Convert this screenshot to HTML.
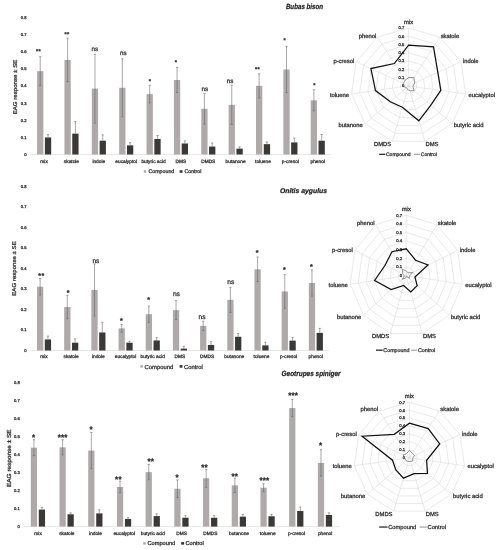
<!DOCTYPE html>
<html><head><meta charset="utf-8"><title>EAG responses</title>
<style>html,body{margin:0;padding:0;background:#fff}svg{display:block;filter:blur(.35px)}text{stroke:#2a2a2a;stroke-width:.3px;stroke-opacity:.85}</style></head>
<body><svg text-rendering="geometricPrecision" width="501" height="550" viewBox="0 0 501 550">
<rect width="501" height="550" fill="#fff"/>
<text x="26.60" y="155.80" font-size="4.15" text-anchor="end" fill="#262626" font-family="Liberation Sans, Arial, sans-serif">0</text>
<text x="26.60" y="138.70" font-size="4.15" text-anchor="end" fill="#262626" font-family="Liberation Sans, Arial, sans-serif">0.1</text>
<text x="26.60" y="121.60" font-size="4.15" text-anchor="end" fill="#262626" font-family="Liberation Sans, Arial, sans-serif">0.2</text>
<text x="26.60" y="104.50" font-size="4.15" text-anchor="end" fill="#262626" font-family="Liberation Sans, Arial, sans-serif">0.3</text>
<text x="26.60" y="87.40" font-size="4.15" text-anchor="end" fill="#262626" font-family="Liberation Sans, Arial, sans-serif">0.4</text>
<text x="26.60" y="70.30" font-size="4.15" text-anchor="end" fill="#262626" font-family="Liberation Sans, Arial, sans-serif">0.5</text>
<text x="26.60" y="53.20" font-size="4.15" text-anchor="end" fill="#262626" font-family="Liberation Sans, Arial, sans-serif">0.6</text>
<text x="26.60" y="36.10" font-size="4.15" text-anchor="end" fill="#262626" font-family="Liberation Sans, Arial, sans-serif">0.7</text>
<text x="26.60" y="19.00" font-size="4.15" text-anchor="end" fill="#262626" font-family="Liberation Sans, Arial, sans-serif">0.8</text>
<text transform="translate(16.70,87.00) rotate(-90)" font-size="5.6" textLength="54.6" lengthAdjust="spacingAndGlyphs" text-anchor="middle" fill="#262626" font-family="Liberation Sans, Arial, sans-serif">EAG response ± SE</text>
<line x1="30.0" y1="154.5" x2="331.0" y2="154.5" stroke="#d9d9d9" stroke-width="0.6"/>
<rect x="37.08" y="71.18" width="6.3" height="83.32" fill="#aeaaaa"/>
<path d="M40.23 56.69V85.67M39.13 56.69h2.2M39.13 85.67h2.2" stroke="#5f5f5f" stroke-width="0.55" fill="none"/>
<text x="38.48" y="53.39" font-size="5.6" font-weight="bold" letter-spacing="0.25" text-anchor="middle" fill="#1a1a1a" font-family="Liberation Sans, Arial, sans-serif">**</text>
<rect x="44.88" y="137.42" width="6.3" height="17.08" fill="#3b3838"/>
<path d="M48.03 134.66V137.42M46.93 134.66h2.2" stroke="#5f5f5f" stroke-width="0.55" fill="none"/>
<text x="44.08" y="163.00" font-size="4.8" text-anchor="middle" fill="#262626" font-family="Liberation Sans, Arial, sans-serif">mix</text>
<rect x="64.45" y="59.97" width="6.3" height="94.53" fill="#aeaaaa"/>
<path d="M67.60 38.23V81.70M66.50 38.23h2.2M66.50 81.70h2.2" stroke="#5f5f5f" stroke-width="0.55" fill="none"/>
<text x="67.05" y="35.94" font-size="5.6" font-weight="bold" letter-spacing="0.25" text-anchor="middle" fill="#1a1a1a" font-family="Liberation Sans, Arial, sans-serif">**</text>
<rect x="72.25" y="133.63" width="6.3" height="20.87" fill="#3b3838"/>
<path d="M75.40 121.55V133.63M74.30 121.55h2.2" stroke="#5f5f5f" stroke-width="0.55" fill="none"/>
<text x="71.45" y="163.00" font-size="4.8" text-anchor="middle" fill="#262626" font-family="Liberation Sans, Arial, sans-serif">skatole</text>
<rect x="91.81" y="88.61" width="6.3" height="65.89" fill="#aeaaaa"/>
<path d="M94.96 54.11V123.11M93.86 54.11h2.2M93.86 123.11h2.2" stroke="#5f5f5f" stroke-width="0.55" fill="none"/>
<text x="94.76" y="51.21" font-size="6.3" text-anchor="middle" fill="#333" font-family="Liberation Sans, Arial, sans-serif">ns</text>
<rect x="99.61" y="140.70" width="6.3" height="13.80" fill="#3b3838"/>
<path d="M102.76 134.83V140.70M101.66 134.83h2.2" stroke="#5f5f5f" stroke-width="0.55" fill="none"/>
<text x="98.81" y="163.00" font-size="4.8" text-anchor="middle" fill="#262626" font-family="Liberation Sans, Arial, sans-serif">indole</text>
<rect x="119.17" y="87.74" width="6.3" height="66.76" fill="#aeaaaa"/>
<path d="M122.32 58.76V116.72M121.22 58.76h2.2M121.22 116.72h2.2" stroke="#5f5f5f" stroke-width="0.55" fill="none"/>
<text x="123.32" y="55.36" font-size="6.3" text-anchor="middle" fill="#333" font-family="Liberation Sans, Arial, sans-serif">ns</text>
<rect x="126.97" y="145.36" width="6.3" height="9.14" fill="#3b3838"/>
<path d="M130.12 142.60V145.36M129.02 142.60h2.2" stroke="#5f5f5f" stroke-width="0.55" fill="none"/>
<text x="126.17" y="163.00" font-size="4.8" text-anchor="middle" fill="#262626" font-family="Liberation Sans, Arial, sans-serif">eucalyptol</text>
<rect x="146.54" y="94.12" width="6.3" height="60.37" fill="#aeaaaa"/>
<path d="M149.69 85.33V102.92M148.59 85.33h2.2M148.59 102.92h2.2" stroke="#5f5f5f" stroke-width="0.55" fill="none"/>
<text x="150.01" y="83.03" font-size="5.6" font-weight="bold" letter-spacing="0.25" text-anchor="middle" fill="#1a1a1a" font-family="Liberation Sans, Arial, sans-serif">*</text>
<rect x="154.34" y="138.97" width="6.3" height="15.52" fill="#3b3838"/>
<path d="M157.49 135.53V138.97M156.39 135.53h2.2" stroke="#5f5f5f" stroke-width="0.55" fill="none"/>
<text x="153.54" y="163.00" font-size="4.8" text-anchor="middle" fill="#262626" font-family="Liberation Sans, Arial, sans-serif">butyric acid</text>
<rect x="173.90" y="79.98" width="6.3" height="74.52" fill="#aeaaaa"/>
<path d="M177.05 67.39V92.57M175.95 67.39h2.2M175.95 92.57h2.2" stroke="#5f5f5f" stroke-width="0.55" fill="none"/>
<text x="175.88" y="64.39" font-size="5.6" font-weight="bold" letter-spacing="0.25" text-anchor="middle" fill="#1a1a1a" font-family="Liberation Sans, Arial, sans-serif">*</text>
<rect x="181.70" y="143.46" width="6.3" height="11.04" fill="#3b3838"/>
<path d="M184.85 140.87V143.46M183.75 140.87h2.2" stroke="#5f5f5f" stroke-width="0.55" fill="none"/>
<text x="180.90" y="163.00" font-size="4.8" text-anchor="middle" fill="#262626" font-family="Liberation Sans, Arial, sans-serif">DMS</text>
<rect x="201.26" y="108.79" width="6.3" height="45.71" fill="#aeaaaa"/>
<path d="M204.41 93.44V124.14M203.31 93.44h2.2M203.31 124.14h2.2" stroke="#5f5f5f" stroke-width="0.55" fill="none"/>
<text x="204.71" y="91.04" font-size="6.3" text-anchor="middle" fill="#333" font-family="Liberation Sans, Arial, sans-serif">ns</text>
<rect x="209.06" y="146.56" width="6.3" height="7.93" fill="#3b3838"/>
<path d="M212.21 142.94V146.56M211.11 142.94h2.2" stroke="#5f5f5f" stroke-width="0.55" fill="none"/>
<text x="208.26" y="163.00" font-size="4.8" text-anchor="middle" fill="#262626" font-family="Liberation Sans, Arial, sans-serif">DMDS</text>
<rect x="228.63" y="104.82" width="6.3" height="49.68" fill="#aeaaaa"/>
<path d="M231.78 85.16V124.48M230.68 85.16h2.2M230.68 124.48h2.2" stroke="#5f5f5f" stroke-width="0.55" fill="none"/>
<text x="230.08" y="83.06" font-size="6.3" text-anchor="middle" fill="#333" font-family="Liberation Sans, Arial, sans-serif">ns</text>
<rect x="236.43" y="148.63" width="6.3" height="5.87" fill="#3b3838"/>
<path d="M239.58 146.91V148.63M238.48 146.91h2.2" stroke="#5f5f5f" stroke-width="0.55" fill="none"/>
<text x="235.63" y="163.00" font-size="4.8" text-anchor="middle" fill="#262626" font-family="Liberation Sans, Arial, sans-serif">butanone</text>
<rect x="255.99" y="85.84" width="6.3" height="68.66" fill="#aeaaaa"/>
<path d="M259.14 73.77V97.92M258.04 73.77h2.2M258.04 97.92h2.2" stroke="#5f5f5f" stroke-width="0.55" fill="none"/>
<text x="257.39" y="71.47" font-size="5.6" font-weight="bold" letter-spacing="0.25" text-anchor="middle" fill="#1a1a1a" font-family="Liberation Sans, Arial, sans-serif">**</text>
<rect x="263.79" y="144.15" width="6.3" height="10.35" fill="#3b3838"/>
<path d="M266.94 141.91V144.15M265.84 141.91h2.2" stroke="#5f5f5f" stroke-width="0.55" fill="none"/>
<text x="262.99" y="163.00" font-size="4.8" text-anchor="middle" fill="#262626" font-family="Liberation Sans, Arial, sans-serif">toluene</text>
<rect x="283.35" y="69.46" width="6.3" height="85.04" fill="#aeaaaa"/>
<path d="M286.50 46.34V92.57M285.40 46.34h2.2M285.40 92.57h2.2" stroke="#5f5f5f" stroke-width="0.55" fill="none"/>
<text x="284.63" y="41.64" font-size="5.6" font-weight="bold" letter-spacing="0.25" text-anchor="middle" fill="#1a1a1a" font-family="Liberation Sans, Arial, sans-serif">*</text>
<rect x="291.15" y="142.43" width="6.3" height="12.08" fill="#3b3838"/>
<path d="M294.30 138.11V142.43M293.20 138.11h2.2" stroke="#5f5f5f" stroke-width="0.55" fill="none"/>
<text x="290.35" y="163.00" font-size="4.8" text-anchor="middle" fill="#262626" font-family="Liberation Sans, Arial, sans-serif">p-cresol</text>
<rect x="310.72" y="100.34" width="6.3" height="54.16" fill="#aeaaaa"/>
<path d="M313.87 89.81V110.86M312.77 89.81h2.2M312.77 110.86h2.2" stroke="#5f5f5f" stroke-width="0.55" fill="none"/>
<text x="314.39" y="87.01" font-size="5.6" font-weight="bold" letter-spacing="0.25" text-anchor="middle" fill="#1a1a1a" font-family="Liberation Sans, Arial, sans-serif">*</text>
<rect x="318.52" y="140.70" width="6.3" height="13.80" fill="#3b3838"/>
<path d="M321.67 134.49V140.70M320.57 134.49h2.2" stroke="#5f5f5f" stroke-width="0.55" fill="none"/>
<text x="317.72" y="163.00" font-size="4.8" text-anchor="middle" fill="#262626" font-family="Liberation Sans, Arial, sans-serif">phenol</text>
<rect x="143.80" y="170.24" width="2.5" height="2.5" fill="#aeaaaa"/>
<text x="148.40" y="173.40" font-size="5.3" fill="#262626" font-family="Liberation Sans, Arial, sans-serif">Compound</text>
<rect x="179.60" y="170.19" width="2.9" height="2.6" fill="#3b3838"/>
<text x="184.40" y="173.40" font-size="5.3" fill="#262626" font-family="Liberation Sans, Arial, sans-serif">Control</text>
<text x="285.90" y="9.30" font-size="7.5" font-weight="bold" font-style="italic" textLength="37.2" lengthAdjust="spacingAndGlyphs" fill="#1a1a1a" font-family="Liberation Sans, Arial, sans-serif">Bubas bison</text>
<text x="26.60" y="351.80" font-size="4.15" text-anchor="end" fill="#262626" font-family="Liberation Sans, Arial, sans-serif">0</text>
<text x="26.60" y="331.30" font-size="4.15" text-anchor="end" fill="#262626" font-family="Liberation Sans, Arial, sans-serif">0.1</text>
<text x="26.60" y="310.80" font-size="4.15" text-anchor="end" fill="#262626" font-family="Liberation Sans, Arial, sans-serif">0.2</text>
<text x="26.60" y="290.30" font-size="4.15" text-anchor="end" fill="#262626" font-family="Liberation Sans, Arial, sans-serif">0.3</text>
<text x="26.60" y="269.80" font-size="4.15" text-anchor="end" fill="#262626" font-family="Liberation Sans, Arial, sans-serif">0.4</text>
<text x="26.60" y="249.30" font-size="4.15" text-anchor="end" fill="#262626" font-family="Liberation Sans, Arial, sans-serif">0.5</text>
<text x="26.60" y="228.80" font-size="4.15" text-anchor="end" fill="#262626" font-family="Liberation Sans, Arial, sans-serif">0.6</text>
<text x="26.60" y="208.30" font-size="4.15" text-anchor="end" fill="#262626" font-family="Liberation Sans, Arial, sans-serif">0.7</text>
<text x="26.60" y="187.80" font-size="4.15" text-anchor="end" fill="#262626" font-family="Liberation Sans, Arial, sans-serif">0.8</text>
<text transform="translate(16.40,268.50) rotate(-90)" font-size="5.6" textLength="54.4" lengthAdjust="spacingAndGlyphs" text-anchor="middle" fill="#262626" font-family="Liberation Sans, Arial, sans-serif">EAG response ± SE</text>
<line x1="30.0" y1="350.5" x2="329.0" y2="350.5" stroke="#d9d9d9" stroke-width="0.6"/>
<rect x="36.99" y="286.75" width="6.3" height="63.76" fill="#aeaaaa"/>
<path d="M40.14 278.55V294.94M39.04 278.55h2.2M39.04 294.94h2.2" stroke="#5f5f5f" stroke-width="0.55" fill="none"/>
<text x="41.59" y="278.05" font-size="7.0" font-weight="bold" letter-spacing="0.55" text-anchor="middle" fill="#1a1a1a" font-family="Liberation Sans, Arial, sans-serif">**</text>
<rect x="44.79" y="339.43" width="6.3" height="11.07" fill="#3b3838"/>
<path d="M47.94 336.15V339.43M46.84 336.15h2.2" stroke="#5f5f5f" stroke-width="0.55" fill="none"/>
<text x="43.99" y="358.00" font-size="4.8" text-anchor="middle" fill="#262626" font-family="Liberation Sans, Arial, sans-serif">mix</text>
<rect x="64.17" y="307.04" width="6.3" height="43.46" fill="#aeaaaa"/>
<path d="M67.32 295.36V318.73M66.22 295.36h2.2M66.22 318.73h2.2" stroke="#5f5f5f" stroke-width="0.55" fill="none"/>
<text x="68.30" y="294.56" font-size="7.0" font-weight="bold" letter-spacing="0.55" text-anchor="middle" fill="#1a1a1a" font-family="Liberation Sans, Arial, sans-serif">*</text>
<rect x="71.97" y="342.71" width="6.3" height="7.79" fill="#3b3838"/>
<path d="M75.12 338.81V342.71M74.02 338.81h2.2" stroke="#5f5f5f" stroke-width="0.55" fill="none"/>
<text x="71.17" y="358.00" font-size="4.8" text-anchor="middle" fill="#262626" font-family="Liberation Sans, Arial, sans-serif">skatole</text>
<rect x="91.35" y="290.02" width="6.3" height="60.47" fill="#aeaaaa"/>
<path d="M94.50 263.99V316.06M93.40 263.99h2.2M93.40 316.06h2.2" stroke="#5f5f5f" stroke-width="0.55" fill="none"/>
<text x="95.90" y="262.69" font-size="6.6" text-anchor="middle" fill="#333" font-family="Liberation Sans, Arial, sans-serif">ns</text>
<rect x="99.15" y="332.46" width="6.3" height="18.04" fill="#3b3838"/>
<path d="M102.30 322.41V332.46M101.20 322.41h2.2" stroke="#5f5f5f" stroke-width="0.55" fill="none"/>
<text x="98.35" y="358.00" font-size="4.8" text-anchor="middle" fill="#262626" font-family="Liberation Sans, Arial, sans-serif">indole</text>
<rect x="118.54" y="328.36" width="6.3" height="22.14" fill="#aeaaaa"/>
<path d="M121.69 324.47V332.25M120.59 324.47h2.2M120.59 332.25h2.2" stroke="#5f5f5f" stroke-width="0.55" fill="none"/>
<text x="121.66" y="323.27" font-size="7.0" font-weight="bold" letter-spacing="0.55" text-anchor="middle" fill="#1a1a1a" font-family="Liberation Sans, Arial, sans-serif">*</text>
<rect x="126.34" y="342.71" width="6.3" height="7.79" fill="#3b3838"/>
<path d="M129.49 341.27V342.71M128.39 341.27h2.2" stroke="#5f5f5f" stroke-width="0.55" fill="none"/>
<text x="125.54" y="358.00" font-size="4.8" text-anchor="middle" fill="#262626" font-family="Liberation Sans, Arial, sans-serif">eucalyptol</text>
<rect x="145.72" y="314.22" width="6.3" height="36.28" fill="#aeaaaa"/>
<path d="M148.87 306.02V322.42M147.77 306.02h2.2M147.77 322.42h2.2" stroke="#5f5f5f" stroke-width="0.55" fill="none"/>
<text x="148.84" y="301.92" font-size="7.0" font-weight="bold" letter-spacing="0.55" text-anchor="middle" fill="#1a1a1a" font-family="Liberation Sans, Arial, sans-serif">*</text>
<rect x="153.52" y="340.45" width="6.3" height="10.04" fill="#3b3838"/>
<path d="M156.67 337.58V340.45M155.57 337.58h2.2" stroke="#5f5f5f" stroke-width="0.55" fill="none"/>
<text x="152.72" y="358.00" font-size="4.8" text-anchor="middle" fill="#262626" font-family="Liberation Sans, Arial, sans-serif">butyric acid</text>
<rect x="172.90" y="310.12" width="6.3" height="40.39" fill="#aeaaaa"/>
<path d="M176.05 300.69V319.55M174.95 300.69h2.2M174.95 319.55h2.2" stroke="#5f5f5f" stroke-width="0.55" fill="none"/>
<text x="176.45" y="295.88" font-size="6.6" text-anchor="middle" fill="#333" font-family="Liberation Sans, Arial, sans-serif">ns</text>
<rect x="180.70" y="348.65" width="6.3" height="1.84" fill="#3b3838"/>
<path d="M183.85 346.40V348.65M182.75 346.40h2.2" stroke="#5f5f5f" stroke-width="0.55" fill="none"/>
<text x="179.90" y="358.00" font-size="4.8" text-anchor="middle" fill="#262626" font-family="Liberation Sans, Arial, sans-serif">DMS</text>
<rect x="200.08" y="325.90" width="6.3" height="24.60" fill="#aeaaaa"/>
<path d="M203.23 321.19V330.61M202.13 321.19h2.2M202.13 330.61h2.2" stroke="#5f5f5f" stroke-width="0.55" fill="none"/>
<text x="202.03" y="318.58" font-size="6.6" text-anchor="middle" fill="#333" font-family="Liberation Sans, Arial, sans-serif">ns</text>
<rect x="207.88" y="344.96" width="6.3" height="5.54" fill="#3b3838"/>
<path d="M211.03 341.69V344.96M209.93 341.69h2.2" stroke="#5f5f5f" stroke-width="0.55" fill="none"/>
<text x="207.08" y="358.00" font-size="4.8" text-anchor="middle" fill="#262626" font-family="Liberation Sans, Arial, sans-serif">DMDS</text>
<rect x="227.26" y="299.87" width="6.3" height="50.63" fill="#aeaaaa"/>
<path d="M230.41 287.36V312.37M229.31 287.36h2.2M229.31 312.37h2.2" stroke="#5f5f5f" stroke-width="0.55" fill="none"/>
<text x="230.81" y="283.86" font-size="6.6" text-anchor="middle" fill="#333" font-family="Liberation Sans, Arial, sans-serif">ns</text>
<rect x="235.06" y="336.76" width="6.3" height="13.74" fill="#3b3838"/>
<path d="M238.21 333.49V336.76M237.11 333.49h2.2" stroke="#5f5f5f" stroke-width="0.55" fill="none"/>
<text x="234.26" y="358.00" font-size="4.8" text-anchor="middle" fill="#262626" font-family="Liberation Sans, Arial, sans-serif">butanone</text>
<rect x="254.45" y="269.32" width="6.3" height="81.18" fill="#aeaaaa"/>
<path d="M257.60 257.02V281.62M256.50 257.02h2.2M256.50 281.62h2.2" stroke="#5f5f5f" stroke-width="0.55" fill="none"/>
<text x="257.37" y="255.32" font-size="7.0" font-weight="bold" letter-spacing="0.55" text-anchor="middle" fill="#1a1a1a" font-family="Liberation Sans, Arial, sans-serif">*</text>
<rect x="262.25" y="345.38" width="6.3" height="5.12" fill="#3b3838"/>
<path d="M265.40 342.30V345.38M264.30 342.30h2.2" stroke="#5f5f5f" stroke-width="0.55" fill="none"/>
<text x="261.45" y="358.00" font-size="4.8" text-anchor="middle" fill="#262626" font-family="Liberation Sans, Arial, sans-serif">toluene</text>
<rect x="281.63" y="291.46" width="6.3" height="59.04" fill="#aeaaaa"/>
<path d="M284.78 274.65V308.27M283.68 274.65h2.2M283.68 308.27h2.2" stroke="#5f5f5f" stroke-width="0.55" fill="none"/>
<text x="284.75" y="272.15" font-size="7.0" font-weight="bold" letter-spacing="0.55" text-anchor="middle" fill="#1a1a1a" font-family="Liberation Sans, Arial, sans-serif">*</text>
<rect x="289.43" y="340.66" width="6.3" height="9.84" fill="#3b3838"/>
<path d="M292.58 337.38V340.66M291.48 337.38h2.2" stroke="#5f5f5f" stroke-width="0.55" fill="none"/>
<text x="288.63" y="358.00" font-size="4.8" text-anchor="middle" fill="#262626" font-family="Liberation Sans, Arial, sans-serif">p-cresol</text>
<rect x="308.81" y="283.06" width="6.3" height="67.45" fill="#aeaaaa"/>
<path d="M311.96 269.94V296.18M310.86 269.94h2.2M310.86 296.18h2.2" stroke="#5f5f5f" stroke-width="0.55" fill="none"/>
<text x="311.53" y="268.74" font-size="7.0" font-weight="bold" letter-spacing="0.55" text-anchor="middle" fill="#1a1a1a" font-family="Liberation Sans, Arial, sans-serif">*</text>
<rect x="316.61" y="332.87" width="6.3" height="17.63" fill="#3b3838"/>
<path d="M319.76 328.36V332.87M318.66 328.36h2.2" stroke="#5f5f5f" stroke-width="0.55" fill="none"/>
<text x="315.81" y="358.00" font-size="4.8" text-anchor="middle" fill="#262626" font-family="Liberation Sans, Arial, sans-serif">phenol</text>
<rect x="140.40" y="365.14" width="2.5" height="2.5" fill="#aeaaaa"/>
<text x="144.60" y="368.50" font-size="5.85" fill="#262626" font-family="Liberation Sans, Arial, sans-serif">Compound</text>
<rect x="179.60" y="365.09" width="2.9" height="2.6" fill="#3b3838"/>
<text x="184.00" y="368.50" font-size="5.85" fill="#262626" font-family="Liberation Sans, Arial, sans-serif">Control</text>
<text x="279.90" y="192.90" font-size="6.85" font-weight="bold" font-style="italic" textLength="47.2" lengthAdjust="spacingAndGlyphs" fill="#1a1a1a" font-family="Liberation Sans, Arial, sans-serif">Onitis aygulus</text>
<text x="19.80" y="527.90" font-size="4.15" text-anchor="end" fill="#262626" font-family="Liberation Sans, Arial, sans-serif">0</text>
<text x="19.80" y="509.90" font-size="4.15" text-anchor="end" fill="#262626" font-family="Liberation Sans, Arial, sans-serif">0.1</text>
<text x="19.80" y="491.90" font-size="4.15" text-anchor="end" fill="#262626" font-family="Liberation Sans, Arial, sans-serif">0.2</text>
<text x="19.80" y="473.90" font-size="4.15" text-anchor="end" fill="#262626" font-family="Liberation Sans, Arial, sans-serif">0.3</text>
<text x="19.80" y="455.90" font-size="4.15" text-anchor="end" fill="#262626" font-family="Liberation Sans, Arial, sans-serif">0.4</text>
<text x="19.80" y="437.90" font-size="4.15" text-anchor="end" fill="#262626" font-family="Liberation Sans, Arial, sans-serif">0.5</text>
<text x="19.80" y="419.90" font-size="4.15" text-anchor="end" fill="#262626" font-family="Liberation Sans, Arial, sans-serif">0.6</text>
<text x="19.80" y="401.90" font-size="4.15" text-anchor="end" fill="#262626" font-family="Liberation Sans, Arial, sans-serif">0.7</text>
<text x="19.80" y="383.90" font-size="4.15" text-anchor="end" fill="#262626" font-family="Liberation Sans, Arial, sans-serif">0.8</text>
<text transform="translate(11.20,458.20) rotate(-90)" font-size="5.9" textLength="57.6" lengthAdjust="spacingAndGlyphs" text-anchor="middle" fill="#262626" font-family="Liberation Sans, Arial, sans-serif">EAG response ± SE</text>
<line x1="23.75" y1="526.6" x2="339.5" y2="526.6" stroke="#d9d9d9" stroke-width="0.6"/>
<rect x="30.80" y="447.68" width="6.25" height="78.92" fill="#aeaaaa"/>
<path d="M33.93 439.72V455.65M32.83 439.72h2.2M32.83 455.65h2.2" stroke="#5f5f5f" stroke-width="0.55" fill="none"/>
<text x="33.73" y="440.22" font-size="8" font-weight="bold" letter-spacing="0.2" text-anchor="middle" fill="#1a1a1a" font-family="Liberation Sans, Arial, sans-serif">*</text>
<rect x="38.80" y="509.59" width="6.25" height="17.01" fill="#3b3838"/>
<path d="M41.93 507.41V509.59M40.83 507.41h2.2" stroke="#5f5f5f" stroke-width="0.55" fill="none"/>
<text x="38.10" y="534.80" font-size="4.8" text-anchor="middle" fill="#262626" font-family="Liberation Sans, Arial, sans-serif">mix</text>
<rect x="59.51" y="447.32" width="6.25" height="79.28" fill="#aeaaaa"/>
<path d="M62.63 439.72V454.92M61.53 439.72h2.2M61.53 454.92h2.2" stroke="#5f5f5f" stroke-width="0.55" fill="none"/>
<text x="62.63" y="440.22" font-size="8" font-weight="bold" letter-spacing="0.2" text-anchor="middle" fill="#1a1a1a" font-family="Liberation Sans, Arial, sans-serif">***</text>
<rect x="67.51" y="514.29" width="6.25" height="12.31" fill="#3b3838"/>
<path d="M70.63 512.84V514.29M69.53 512.84h2.2" stroke="#5f5f5f" stroke-width="0.55" fill="none"/>
<text x="66.81" y="534.80" font-size="4.8" text-anchor="middle" fill="#262626" font-family="Liberation Sans, Arial, sans-serif">skatole</text>
<rect x="88.21" y="450.58" width="6.25" height="76.02" fill="#aeaaaa"/>
<path d="M91.34 432.48V468.68M90.24 432.48h2.2M90.24 468.68h2.2" stroke="#5f5f5f" stroke-width="0.55" fill="none"/>
<text x="91.14" y="432.38" font-size="8" font-weight="bold" letter-spacing="0.2" text-anchor="middle" fill="#1a1a1a" font-family="Liberation Sans, Arial, sans-serif">*</text>
<rect x="96.21" y="513.39" width="6.25" height="13.21" fill="#3b3838"/>
<path d="M99.34 509.77V513.39M98.24 509.77h2.2" stroke="#5f5f5f" stroke-width="0.55" fill="none"/>
<text x="95.51" y="534.80" font-size="4.8" text-anchor="middle" fill="#262626" font-family="Liberation Sans, Arial, sans-serif">indole</text>
<rect x="116.92" y="486.96" width="6.25" height="39.64" fill="#aeaaaa"/>
<path d="M120.04 481.17V492.75M118.94 481.17h2.2M118.94 492.75h2.2" stroke="#5f5f5f" stroke-width="0.55" fill="none"/>
<text x="118.44" y="481.67" font-size="8" font-weight="bold" letter-spacing="0.2" text-anchor="middle" fill="#1a1a1a" font-family="Liberation Sans, Arial, sans-serif">**</text>
<rect x="124.92" y="519.00" width="6.25" height="7.60" fill="#3b3838"/>
<path d="M128.04 517.55V519.00M126.94 517.55h2.2" stroke="#5f5f5f" stroke-width="0.55" fill="none"/>
<text x="124.22" y="534.80" font-size="4.8" text-anchor="middle" fill="#262626" font-family="Liberation Sans, Arial, sans-serif">eucalyptol</text>
<rect x="145.62" y="472.12" width="6.25" height="54.48" fill="#aeaaaa"/>
<path d="M148.75 464.52V479.72M147.65 464.52h2.2M147.65 479.72h2.2" stroke="#5f5f5f" stroke-width="0.55" fill="none"/>
<text x="150.85" y="463.92" font-size="8" font-weight="bold" letter-spacing="0.2" text-anchor="middle" fill="#1a1a1a" font-family="Liberation Sans, Arial, sans-serif">**</text>
<rect x="153.62" y="516.10" width="6.25" height="10.50" fill="#3b3838"/>
<path d="M156.75 513.75V516.10M155.65 513.75h2.2" stroke="#5f5f5f" stroke-width="0.55" fill="none"/>
<text x="152.92" y="534.80" font-size="4.8" text-anchor="middle" fill="#262626" font-family="Liberation Sans, Arial, sans-serif">butyric acid</text>
<rect x="174.32" y="488.77" width="6.25" height="37.83" fill="#aeaaaa"/>
<path d="M177.45 479.90V497.64M176.35 479.90h2.2M176.35 497.64h2.2" stroke="#5f5f5f" stroke-width="0.55" fill="none"/>
<text x="177.25" y="480.40" font-size="8" font-weight="bold" letter-spacing="0.2" text-anchor="middle" fill="#1a1a1a" font-family="Liberation Sans, Arial, sans-serif">*</text>
<rect x="182.32" y="517.73" width="6.25" height="8.87" fill="#3b3838"/>
<path d="M185.45 515.56V517.73M184.35 515.56h2.2" stroke="#5f5f5f" stroke-width="0.55" fill="none"/>
<text x="181.62" y="534.80" font-size="4.8" text-anchor="middle" fill="#262626" font-family="Liberation Sans, Arial, sans-serif">DMS</text>
<rect x="203.03" y="478.27" width="6.25" height="48.33" fill="#aeaaaa"/>
<path d="M206.15 469.22V487.32M205.05 469.22h2.2M205.05 487.32h2.2" stroke="#5f5f5f" stroke-width="0.55" fill="none"/>
<text x="204.55" y="469.72" font-size="8" font-weight="bold" letter-spacing="0.2" text-anchor="middle" fill="#1a1a1a" font-family="Liberation Sans, Arial, sans-serif">**</text>
<rect x="211.03" y="517.73" width="6.25" height="8.87" fill="#3b3838"/>
<path d="M214.15 515.38V517.73M213.05 515.38h2.2" stroke="#5f5f5f" stroke-width="0.55" fill="none"/>
<text x="210.33" y="534.80" font-size="4.8" text-anchor="middle" fill="#262626" font-family="Liberation Sans, Arial, sans-serif">DMDS</text>
<rect x="231.73" y="485.33" width="6.25" height="41.27" fill="#aeaaaa"/>
<path d="M234.86 478.09V492.57M233.76 478.09h2.2M233.76 492.57h2.2" stroke="#5f5f5f" stroke-width="0.55" fill="none"/>
<text x="234.76" y="478.59" font-size="8" font-weight="bold" letter-spacing="0.2" text-anchor="middle" fill="#1a1a1a" font-family="Liberation Sans, Arial, sans-serif">**</text>
<rect x="239.73" y="516.64" width="6.25" height="9.96" fill="#3b3838"/>
<path d="M242.86 514.47V516.64M241.76 514.47h2.2" stroke="#5f5f5f" stroke-width="0.55" fill="none"/>
<text x="239.03" y="534.80" font-size="4.8" text-anchor="middle" fill="#262626" font-family="Liberation Sans, Arial, sans-serif">butanone</text>
<rect x="260.44" y="487.69" width="6.25" height="38.91" fill="#aeaaaa"/>
<path d="M263.56 483.70V491.67M262.46 483.70h2.2M262.46 491.67h2.2" stroke="#5f5f5f" stroke-width="0.55" fill="none"/>
<text x="264.46" y="483.30" font-size="8" font-weight="bold" letter-spacing="0.2" text-anchor="middle" fill="#1a1a1a" font-family="Liberation Sans, Arial, sans-serif">***</text>
<rect x="268.44" y="516.28" width="6.25" height="10.32" fill="#3b3838"/>
<path d="M271.56 514.47V516.28M270.46 514.47h2.2" stroke="#5f5f5f" stroke-width="0.55" fill="none"/>
<text x="267.74" y="534.80" font-size="4.8" text-anchor="middle" fill="#262626" font-family="Liberation Sans, Arial, sans-serif">toluene</text>
<rect x="289.14" y="408.05" width="6.25" height="118.56" fill="#aeaaaa"/>
<path d="M292.27 399.36V416.73M291.17 399.36h2.2M291.17 416.73h2.2" stroke="#5f5f5f" stroke-width="0.55" fill="none"/>
<text x="293.17" y="398.46" font-size="8" font-weight="bold" letter-spacing="0.2" text-anchor="middle" fill="#1a1a1a" font-family="Liberation Sans, Arial, sans-serif">***</text>
<rect x="297.14" y="511.03" width="6.25" height="15.57" fill="#3b3838"/>
<path d="M300.27 507.05V511.03M299.17 507.05h2.2" stroke="#5f5f5f" stroke-width="0.55" fill="none"/>
<text x="296.44" y="534.80" font-size="4.8" text-anchor="middle" fill="#262626" font-family="Liberation Sans, Arial, sans-serif">p-cresol</text>
<rect x="317.85" y="462.89" width="6.25" height="63.71" fill="#aeaaaa"/>
<path d="M320.97 449.68V476.10M319.87 449.68h2.2M319.87 476.10h2.2" stroke="#5f5f5f" stroke-width="0.55" fill="none"/>
<text x="320.77" y="448.48" font-size="8" font-weight="bold" letter-spacing="0.2" text-anchor="middle" fill="#1a1a1a" font-family="Liberation Sans, Arial, sans-serif">*</text>
<rect x="325.85" y="515.02" width="6.25" height="11.58" fill="#3b3838"/>
<path d="M328.97 512.84V515.02M327.87 512.84h2.2" stroke="#5f5f5f" stroke-width="0.55" fill="none"/>
<text x="325.15" y="534.80" font-size="4.8" text-anchor="middle" fill="#262626" font-family="Liberation Sans, Arial, sans-serif">phenol</text>
<rect x="143.30" y="542.10" width="2.5" height="2.5" fill="#aeaaaa"/>
<text x="147.40" y="545.40" font-size="5.7" fill="#262626" font-family="Liberation Sans, Arial, sans-serif">Compound</text>
<rect x="181.20" y="542.05" width="2.9" height="2.6" fill="#3b3838"/>
<text x="185.40" y="545.40" font-size="5.7" fill="#262626" font-family="Liberation Sans, Arial, sans-serif">Control</text>
<text x="281.60" y="376.40" font-size="7.5" font-weight="bold" font-style="italic" textLength="59.0" lengthAdjust="spacingAndGlyphs" fill="#1a1a1a" font-family="Liberation Sans, Arial, sans-serif">Geotrupes spiniger</text>
<polygon points="408.60,77.54 413.05,78.85 416.08,82.37 416.74,86.98 414.82,91.21 410.92,93.72 406.28,93.72 402.38,91.21 400.46,86.98 401.12,82.37 404.15,78.85" fill="none" stroke="#d8d8d8" stroke-width="0.55"/>
<polygon points="408.60,69.29 417.50,71.91 423.57,78.94 424.89,88.15 421.04,96.61 413.24,101.65 403.96,101.65 396.16,96.61 392.31,88.15 393.63,78.94 399.70,71.91" fill="none" stroke="#d8d8d8" stroke-width="0.55"/>
<polygon points="408.60,61.03 421.95,64.96 431.05,75.51 433.03,89.33 427.26,102.02 415.55,109.57 401.65,109.57 389.94,102.02 384.17,89.33 386.15,75.51 395.25,64.96" fill="none" stroke="#d8d8d8" stroke-width="0.55"/>
<polygon points="408.60,52.77 426.39,58.01 438.54,72.08 441.18,90.50 433.47,107.43 417.87,117.49 399.33,117.49 383.73,107.43 376.02,90.50 378.66,72.08 390.81,58.01" fill="none" stroke="#d8d8d8" stroke-width="0.55"/>
<polygon points="408.60,44.51 430.84,51.07 446.02,68.65 449.32,91.68 439.69,112.84 420.19,125.41 397.01,125.41 377.51,112.84 367.88,91.68 371.18,68.65 386.36,51.07" fill="none" stroke="#d8d8d8" stroke-width="0.55"/>
<polygon points="408.60,36.26 435.29,44.12 453.51,65.22 457.47,92.85 445.91,118.24 422.51,133.34 394.69,133.34 371.29,118.24 359.73,92.85 363.69,65.22 381.91,44.12" fill="none" stroke="#d8d8d8" stroke-width="0.55"/>
<polygon points="408.60,28.00 439.74,37.18 460.99,61.79 465.61,94.03 452.13,123.65 424.83,141.26 392.37,141.26 365.07,123.65 351.59,94.03 356.21,61.79 377.46,37.18" fill="none" stroke="#d8d8d8" stroke-width="0.55"/>
<line x1="408.6" y1="85.8" x2="408.60" y2="28.00" stroke="#d8d8d8" stroke-width="0.55"/>
<line x1="408.6" y1="85.8" x2="439.74" y2="37.18" stroke="#d8d8d8" stroke-width="0.55"/>
<line x1="408.6" y1="85.8" x2="460.99" y2="61.79" stroke="#d8d8d8" stroke-width="0.55"/>
<line x1="408.6" y1="85.8" x2="465.61" y2="94.03" stroke="#d8d8d8" stroke-width="0.55"/>
<line x1="408.6" y1="85.8" x2="452.13" y2="123.65" stroke="#d8d8d8" stroke-width="0.55"/>
<line x1="408.6" y1="85.8" x2="424.83" y2="141.26" stroke="#d8d8d8" stroke-width="0.55"/>
<line x1="408.6" y1="85.8" x2="392.37" y2="141.26" stroke="#d8d8d8" stroke-width="0.55"/>
<line x1="408.6" y1="85.8" x2="365.07" y2="123.65" stroke="#d8d8d8" stroke-width="0.55"/>
<line x1="408.6" y1="85.8" x2="351.59" y2="94.03" stroke="#d8d8d8" stroke-width="0.55"/>
<line x1="408.6" y1="85.8" x2="356.21" y2="61.79" stroke="#d8d8d8" stroke-width="0.55"/>
<line x1="408.6" y1="85.8" x2="377.46" y2="37.18" stroke="#d8d8d8" stroke-width="0.55"/>
<text x="404.30" y="87.20" font-size="4.15" text-anchor="end" fill="#111" font-family="Liberation Sans, Arial, sans-serif">0</text>
<text x="404.30" y="78.94" font-size="4.15" text-anchor="end" fill="#111" font-family="Liberation Sans, Arial, sans-serif">0.1</text>
<text x="404.30" y="70.69" font-size="4.15" text-anchor="end" fill="#111" font-family="Liberation Sans, Arial, sans-serif">0.2</text>
<text x="404.30" y="62.43" font-size="4.15" text-anchor="end" fill="#111" font-family="Liberation Sans, Arial, sans-serif">0.3</text>
<text x="404.30" y="54.17" font-size="4.15" text-anchor="end" fill="#111" font-family="Liberation Sans, Arial, sans-serif">0.4</text>
<text x="404.30" y="45.91" font-size="4.15" text-anchor="end" fill="#111" font-family="Liberation Sans, Arial, sans-serif">0.5</text>
<text x="404.30" y="37.66" font-size="4.15" text-anchor="end" fill="#111" font-family="Liberation Sans, Arial, sans-serif">0.6</text>
<text x="404.30" y="29.40" font-size="4.15" text-anchor="end" fill="#111" font-family="Liberation Sans, Arial, sans-serif">0.7</text>
<polygon points="408.60,77.63 413.98,77.39 414.59,83.06 412.92,86.42 414.20,90.67 410.08,90.87 407.53,89.44 406.49,87.64 403.71,86.51 403.36,83.40 405.04,80.24" fill="none" stroke="#6a6a6a" stroke-width="0.7" stroke-linejoin="round"/>
<polygon points="408.60,45.04 433.52,46.90 437.82,72.41 440.81,90.45 430.84,105.14 418.84,120.78 402.32,107.26 390.30,101.72 375.47,90.58 370.89,68.52 394.32,63.51" fill="none" stroke="#111" stroke-width="1.25" stroke-linejoin="miter"/>
<text x="408.60" y="24.10" font-size="5.85" text-anchor="middle" fill="#222" font-family="Liberation Sans, Arial, sans-serif">mix</text>
<text x="440.64" y="37.54" font-size="5.85" text-anchor="start" fill="#222" font-family="Liberation Sans, Arial, sans-serif">skatole</text>
<text x="462.99" y="63.13" font-size="5.85" text-anchor="start" fill="#222" font-family="Liberation Sans, Arial, sans-serif">indole</text>
<text x="468.61" y="96.65" font-size="5.85" text-anchor="start" fill="#222" font-family="Liberation Sans, Arial, sans-serif">eucalyptol</text>
<text x="453.83" y="127.46" font-size="5.85" text-anchor="start" fill="#222" font-family="Liberation Sans, Arial, sans-serif">butyric acid</text>
<text x="425.53" y="145.77" font-size="5.85" text-anchor="start" fill="#222" font-family="Liberation Sans, Arial, sans-serif">DMS</text>
<text x="391.17" y="145.77" font-size="5.85" text-anchor="end" fill="#222" font-family="Liberation Sans, Arial, sans-serif">DMDS</text>
<text x="362.87" y="127.46" font-size="5.85" text-anchor="end" fill="#222" font-family="Liberation Sans, Arial, sans-serif">butanone</text>
<text x="349.09" y="96.65" font-size="5.85" text-anchor="end" fill="#222" font-family="Liberation Sans, Arial, sans-serif">toluene</text>
<text x="354.21" y="63.13" font-size="5.85" text-anchor="end" fill="#222" font-family="Liberation Sans, Arial, sans-serif">p-cresol</text>
<text x="376.26" y="37.54" font-size="5.85" text-anchor="end" fill="#222" font-family="Liberation Sans, Arial, sans-serif">phenol</text>
<line x1="379.2" y1="154.30" x2="385.4" y2="154.30" stroke="#111" stroke-width="1.15"/>
<text x="386.00" y="156.00" font-size="5.0" fill="#333" font-family="Liberation Sans, Arial, sans-serif">Compound</text>
<line x1="413.9" y1="154.30" x2="420.2" y2="154.30" stroke="#6a6a6a" stroke-width="0.75"/>
<text x="420.80" y="156.00" font-size="5.0" fill="#333" font-family="Liberation Sans, Arial, sans-serif">Control</text>
<polygon points="406.30,266.97 410.67,268.34 413.66,272.02 414.30,276.83 412.41,281.25 408.58,283.88 404.02,283.88 400.19,281.25 398.30,276.83 398.94,272.02 401.93,268.34" fill="none" stroke="#d8d8d8" stroke-width="0.55"/>
<polygon points="406.30,258.34 415.04,261.08 421.01,268.43 422.31,278.06 418.52,286.90 410.86,292.16 401.74,292.16 394.08,286.90 390.29,278.06 391.59,268.43 397.56,261.08" fill="none" stroke="#d8d8d8" stroke-width="0.55"/>
<polygon points="406.30,249.71 419.41,253.82 428.37,264.85 430.31,279.28 424.63,292.55 413.13,300.44 399.47,300.44 387.97,292.55 382.29,279.28 384.23,264.85 393.19,253.82" fill="none" stroke="#d8d8d8" stroke-width="0.55"/>
<polygon points="406.30,241.09 423.79,246.56 435.72,261.26 438.31,280.51 430.74,298.20 415.41,308.72 397.19,308.72 381.86,298.20 374.29,280.51 376.88,261.26 388.81,246.56" fill="none" stroke="#d8d8d8" stroke-width="0.55"/>
<polygon points="406.30,232.46 428.16,239.31 443.08,257.68 446.32,281.74 436.85,303.85 417.69,317.00 394.91,317.00 375.75,303.85 366.28,281.74 369.52,257.68 384.44,239.31" fill="none" stroke="#d8d8d8" stroke-width="0.55"/>
<polygon points="406.30,223.83 432.53,232.05 450.43,254.09 454.32,282.97 442.96,309.50 419.97,325.27 392.63,325.27 369.64,309.50 358.28,282.97 362.17,254.09 380.07,232.05" fill="none" stroke="#d8d8d8" stroke-width="0.55"/>
<polygon points="406.30,215.20 436.90,224.79 457.79,250.51 462.32,284.20 449.08,315.15 422.25,333.55 390.35,333.55 363.52,315.15 350.28,284.20 354.81,250.51 375.70,224.79" fill="none" stroke="#d8d8d8" stroke-width="0.55"/>
<line x1="406.3" y1="275.6" x2="406.30" y2="215.20" stroke="#d8d8d8" stroke-width="0.55"/>
<line x1="406.3" y1="275.6" x2="436.90" y2="224.79" stroke="#d8d8d8" stroke-width="0.55"/>
<line x1="406.3" y1="275.6" x2="457.79" y2="250.51" stroke="#d8d8d8" stroke-width="0.55"/>
<line x1="406.3" y1="275.6" x2="462.32" y2="284.20" stroke="#d8d8d8" stroke-width="0.55"/>
<line x1="406.3" y1="275.6" x2="449.08" y2="315.15" stroke="#d8d8d8" stroke-width="0.55"/>
<line x1="406.3" y1="275.6" x2="422.25" y2="333.55" stroke="#d8d8d8" stroke-width="0.55"/>
<line x1="406.3" y1="275.6" x2="390.35" y2="333.55" stroke="#d8d8d8" stroke-width="0.55"/>
<line x1="406.3" y1="275.6" x2="363.52" y2="315.15" stroke="#d8d8d8" stroke-width="0.55"/>
<line x1="406.3" y1="275.6" x2="350.28" y2="284.20" stroke="#d8d8d8" stroke-width="0.55"/>
<line x1="406.3" y1="275.6" x2="354.81" y2="250.51" stroke="#d8d8d8" stroke-width="0.55"/>
<line x1="406.3" y1="275.6" x2="375.70" y2="224.79" stroke="#d8d8d8" stroke-width="0.55"/>
<text x="402.00" y="277.00" font-size="4.15" text-anchor="end" fill="#111" font-family="Liberation Sans, Arial, sans-serif">0</text>
<text x="402.00" y="268.37" font-size="4.15" text-anchor="end" fill="#111" font-family="Liberation Sans, Arial, sans-serif">0.1</text>
<text x="402.00" y="259.74" font-size="4.15" text-anchor="end" fill="#111" font-family="Liberation Sans, Arial, sans-serif">0.2</text>
<text x="402.00" y="251.11" font-size="4.15" text-anchor="end" fill="#111" font-family="Liberation Sans, Arial, sans-serif">0.3</text>
<text x="402.00" y="242.49" font-size="4.15" text-anchor="end" fill="#111" font-family="Liberation Sans, Arial, sans-serif">0.4</text>
<text x="402.00" y="233.86" font-size="4.15" text-anchor="end" fill="#111" font-family="Liberation Sans, Arial, sans-serif">0.5</text>
<text x="402.00" y="225.23" font-size="4.15" text-anchor="end" fill="#111" font-family="Liberation Sans, Arial, sans-serif">0.6</text>
<text x="402.00" y="216.60" font-size="4.15" text-anchor="end" fill="#111" font-family="Liberation Sans, Arial, sans-serif">0.7</text>
<polygon points="406.30,270.94 407.96,272.84 412.77,272.45 409.34,276.07 409.29,278.37 406.51,276.35 405.68,277.84 402.21,279.39 404.30,275.91 402.77,273.88 402.54,269.36" fill="none" stroke="#6a6a6a" stroke-width="0.7" stroke-linejoin="round"/>
<polygon points="406.30,248.77 415.57,260.21 428.00,265.03 414.94,276.93 417.12,285.60 410.79,291.91 403.57,285.53 391.21,289.56 374.61,280.46 385.12,265.28 391.92,251.72" fill="none" stroke="#111" stroke-width="1.25" stroke-linejoin="miter"/>
<text x="406.30" y="211.30" font-size="5.85" text-anchor="middle" fill="#222" font-family="Liberation Sans, Arial, sans-serif">mix</text>
<text x="437.80" y="225.15" font-size="5.85" text-anchor="start" fill="#222" font-family="Liberation Sans, Arial, sans-serif">skatole</text>
<text x="459.79" y="251.85" font-size="5.85" text-anchor="start" fill="#222" font-family="Liberation Sans, Arial, sans-serif">indole</text>
<text x="465.32" y="286.82" font-size="5.85" text-anchor="start" fill="#222" font-family="Liberation Sans, Arial, sans-serif">eucalyptol</text>
<text x="450.78" y="318.96" font-size="5.85" text-anchor="start" fill="#222" font-family="Liberation Sans, Arial, sans-serif">butyric acid</text>
<text x="422.95" y="338.06" font-size="5.85" text-anchor="start" fill="#222" font-family="Liberation Sans, Arial, sans-serif">DMS</text>
<text x="389.15" y="338.06" font-size="5.85" text-anchor="end" fill="#222" font-family="Liberation Sans, Arial, sans-serif">DMDS</text>
<text x="361.32" y="318.96" font-size="5.85" text-anchor="end" fill="#222" font-family="Liberation Sans, Arial, sans-serif">butanone</text>
<text x="347.78" y="286.82" font-size="5.85" text-anchor="end" fill="#222" font-family="Liberation Sans, Arial, sans-serif">toluene</text>
<text x="352.81" y="251.85" font-size="5.85" text-anchor="end" fill="#222" font-family="Liberation Sans, Arial, sans-serif">p-cresol</text>
<text x="374.50" y="225.15" font-size="5.85" text-anchor="end" fill="#222" font-family="Liberation Sans, Arial, sans-serif">phenol</text>
<line x1="376.0" y1="350.18" x2="382.7" y2="350.18" stroke="#111" stroke-width="1.15"/>
<text x="383.30" y="352.00" font-size="5.35" fill="#333" font-family="Liberation Sans, Arial, sans-serif">Compound</text>
<line x1="411.3" y1="350.18" x2="417.29999999999995" y2="350.18" stroke="#6a6a6a" stroke-width="0.75"/>
<text x="417.90" y="352.00" font-size="5.35" fill="#333" font-family="Liberation Sans, Arial, sans-serif">Control</text>
<polygon points="409.40,449.86 413.69,451.12 416.63,454.50 417.26,458.93 415.40,463.00 411.64,465.42 407.16,465.42 403.40,463.00 401.54,458.93 402.17,454.50 405.11,451.12" fill="none" stroke="#d8d8d8" stroke-width="0.55"/>
<polygon points="409.40,441.91 417.99,444.44 423.85,451.20 425.12,460.06 421.41,468.20 413.88,473.04 404.92,473.04 397.39,468.20 393.68,460.06 394.95,451.20 400.81,444.44" fill="none" stroke="#d8d8d8" stroke-width="0.55"/>
<polygon points="409.40,433.97 422.28,437.75 431.08,447.90 432.99,461.19 427.41,473.40 416.11,480.66 402.69,480.66 391.39,473.40 385.81,461.19 387.72,447.90 396.52,437.75" fill="none" stroke="#d8d8d8" stroke-width="0.55"/>
<polygon points="409.40,426.03 426.58,431.07 438.30,444.60 440.85,462.32 433.41,478.61 418.35,488.28 400.45,488.28 385.39,478.61 377.95,462.32 380.50,444.60 392.22,431.07" fill="none" stroke="#d8d8d8" stroke-width="0.55"/>
<polygon points="409.40,418.09 430.87,424.39 445.53,441.30 448.71,463.45 439.41,483.81 420.59,495.91 398.21,495.91 379.39,483.81 370.09,463.45 373.27,441.30 387.93,424.39" fill="none" stroke="#d8d8d8" stroke-width="0.55"/>
<polygon points="409.40,410.14 435.17,417.71 452.75,438.00 456.57,464.58 445.42,489.01 422.83,503.53 395.97,503.53 373.38,489.01 362.23,464.58 366.05,438.00 383.63,417.71" fill="none" stroke="#d8d8d8" stroke-width="0.55"/>
<polygon points="409.40,402.20 439.46,411.03 459.98,434.70 464.43,465.71 451.42,494.21 425.06,511.15 393.74,511.15 367.38,494.21 354.37,465.71 358.82,434.70 379.34,411.03" fill="none" stroke="#d8d8d8" stroke-width="0.55"/>
<line x1="409.4" y1="457.8" x2="409.40" y2="402.20" stroke="#d8d8d8" stroke-width="0.55"/>
<line x1="409.4" y1="457.8" x2="439.46" y2="411.03" stroke="#d8d8d8" stroke-width="0.55"/>
<line x1="409.4" y1="457.8" x2="459.98" y2="434.70" stroke="#d8d8d8" stroke-width="0.55"/>
<line x1="409.4" y1="457.8" x2="464.43" y2="465.71" stroke="#d8d8d8" stroke-width="0.55"/>
<line x1="409.4" y1="457.8" x2="451.42" y2="494.21" stroke="#d8d8d8" stroke-width="0.55"/>
<line x1="409.4" y1="457.8" x2="425.06" y2="511.15" stroke="#d8d8d8" stroke-width="0.55"/>
<line x1="409.4" y1="457.8" x2="393.74" y2="511.15" stroke="#d8d8d8" stroke-width="0.55"/>
<line x1="409.4" y1="457.8" x2="367.38" y2="494.21" stroke="#d8d8d8" stroke-width="0.55"/>
<line x1="409.4" y1="457.8" x2="354.37" y2="465.71" stroke="#d8d8d8" stroke-width="0.55"/>
<line x1="409.4" y1="457.8" x2="358.82" y2="434.70" stroke="#d8d8d8" stroke-width="0.55"/>
<line x1="409.4" y1="457.8" x2="379.34" y2="411.03" stroke="#d8d8d8" stroke-width="0.55"/>
<text x="405.10" y="459.20" font-size="4.15" text-anchor="end" fill="#111" font-family="Liberation Sans, Arial, sans-serif">0</text>
<text x="405.10" y="451.26" font-size="4.15" text-anchor="end" fill="#111" font-family="Liberation Sans, Arial, sans-serif">0.1</text>
<text x="405.10" y="443.31" font-size="4.15" text-anchor="end" fill="#111" font-family="Liberation Sans, Arial, sans-serif">0.2</text>
<text x="405.10" y="435.37" font-size="4.15" text-anchor="end" fill="#111" font-family="Liberation Sans, Arial, sans-serif">0.3</text>
<text x="405.10" y="427.43" font-size="4.15" text-anchor="end" fill="#111" font-family="Liberation Sans, Arial, sans-serif">0.4</text>
<text x="405.10" y="419.49" font-size="4.15" text-anchor="end" fill="#111" font-family="Liberation Sans, Arial, sans-serif">0.5</text>
<text x="405.10" y="411.54" font-size="4.15" text-anchor="end" fill="#111" font-family="Liberation Sans, Arial, sans-serif">0.6</text>
<text x="405.10" y="403.60" font-size="4.15" text-anchor="end" fill="#111" font-family="Liberation Sans, Arial, sans-serif">0.7</text>
<polygon points="409.40,450.33 412.32,453.26 414.67,455.39 412.70,458.27 412.88,460.82 410.50,461.53 408.30,461.53 406.10,460.66 404.92,458.44 403.19,454.96 406.65,453.52" fill="none" stroke="#6a6a6a" stroke-width="0.7" stroke-linejoin="round"/>
<polygon points="409.40,423.17 428.21,428.53 439.75,443.94 426.62,460.28 427.47,473.46 414.08,473.73 403.43,478.15 395.71,469.66 392.50,460.23 362.08,436.19 394.28,434.28" fill="none" stroke="#111" stroke-width="1.25" stroke-linejoin="miter"/>
<text x="409.40" y="398.30" font-size="5.85" text-anchor="middle" fill="#222" font-family="Liberation Sans, Arial, sans-serif">mix</text>
<text x="440.36" y="411.39" font-size="5.85" text-anchor="start" fill="#222" font-family="Liberation Sans, Arial, sans-serif">skatole</text>
<text x="461.98" y="436.05" font-size="5.85" text-anchor="start" fill="#222" font-family="Liberation Sans, Arial, sans-serif">indole</text>
<text x="467.43" y="468.34" font-size="5.85" text-anchor="start" fill="#222" font-family="Liberation Sans, Arial, sans-serif">eucalyptol</text>
<text x="453.12" y="498.02" font-size="5.85" text-anchor="start" fill="#222" font-family="Liberation Sans, Arial, sans-serif">butyric acid</text>
<text x="425.76" y="515.65" font-size="5.85" text-anchor="start" fill="#222" font-family="Liberation Sans, Arial, sans-serif">DMS</text>
<text x="392.54" y="515.65" font-size="5.85" text-anchor="end" fill="#222" font-family="Liberation Sans, Arial, sans-serif">DMDS</text>
<text x="365.18" y="498.02" font-size="5.85" text-anchor="end" fill="#222" font-family="Liberation Sans, Arial, sans-serif">butanone</text>
<text x="351.87" y="468.34" font-size="5.85" text-anchor="end" fill="#222" font-family="Liberation Sans, Arial, sans-serif">toluene</text>
<text x="356.82" y="436.05" font-size="5.85" text-anchor="end" fill="#222" font-family="Liberation Sans, Arial, sans-serif">p-cresol</text>
<text x="378.14" y="411.39" font-size="5.85" text-anchor="end" fill="#222" font-family="Liberation Sans, Arial, sans-serif">phenol</text>
<line x1="379.2" y1="527.04" x2="387.59999999999997" y2="527.04" stroke="#111" stroke-width="1.15"/>
<text x="388.20" y="529.00" font-size="5.75" fill="#333" font-family="Liberation Sans, Arial, sans-serif">Compound</text>
<line x1="419.7" y1="527.04" x2="426.9" y2="527.04" stroke="#6a6a6a" stroke-width="0.75"/>
<text x="427.50" y="529.00" font-size="5.75" fill="#333" font-family="Liberation Sans, Arial, sans-serif">Control</text>
</svg></body></html>
